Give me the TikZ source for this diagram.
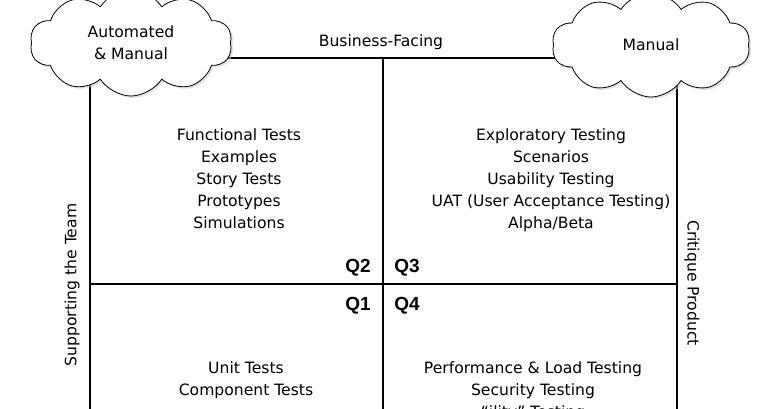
\documentclass[tikz,border=0pt]{standalone}
\usepackage{fontspec}
\setmainfont{DejaVu Sans}
\newfontfamily\qfont{Liberation Sans}
\usetikzlibrary{shapes.symbols}
\usetikzlibrary{shadows}
\newcommand{\lineskipq}{22pt}
\tikzset{
    common/.style={align=center, inner sep=0pt, font=\fontsize{15.6}{\lineskipq}\selectfont},
    quadrant/.style={common},
    qlabel/.style={inner sep=0pt, font=\qfont\bfseries\fontsize{19}{19}\selectfont},
    frame/.style={draw, line width=1.2pt},
    bubble/.style={common, cloud, draw, line width=0.8pt, fill=white, cloud puffs=10, cloud puff arc=115, aspect=2.2,
        drop shadow={shadow xshift=2pt, shadow yshift=-2pt, fill=gray!45}}
}

\begin{document}
\begin{tikzpicture}[x=1pt, y=-1pt]
    \useasboundingbox (0,0) rectangle (778,408);
    \clip (0,0) rectangle (778,408);

    % corners of the grid
    \coordinate (TL) at (90,58);
    \coordinate (TM) at (383,58);
    \coordinate (TR) at (677,58);
    \coordinate (ML) at (90,284);
    \coordinate (MR) at (677,284);
    \coordinate (BL) at (90,420);
    \coordinate (BM) at (383,420);
    \coordinate (BR) at (677,420);

    \draw[frame]
      (TL) -- (TR)
      (TL) -- (BL)
      (TR) -- (BR)
      (TM) -- (BM)
      (ML) -- (MR);

    \path
        node[bubble, minimum width=202pt, minimum height=106pt] (auto) at (131,43) {Automated\\\& Manual}
        node[bubble, minimum width=198pt, minimum height=104pt] (manual) at (651,45) {Manual};

    \path
        node[common] (business) at (381,42) {Business-Facing}
        node[common, rotate=90] (team) at (72,285) {Supporting the Team}
        node[common, rotate=-90] (critique) at (692,283) {Critique Product};

    \path
        node[quadrant] (Q2text) at (239,179) {Functional Tests\\Examples\\Story Tests\\Prototypes\\Simulations}
        node[quadrant] (Q3text) at (551,180) {Exploratory Testing\\Scenarios\\Usability Testing\\UAT (User Acceptance Testing)\\Alpha/Beta}
        node[quadrant] (Q1text) at (246,380) {Unit Tests\\Component Tests}
        node[quadrant] (Q4text) at (533,391) {Performance \& Load Testing\\Security Testing\\“ility” Testing};

    \path
        node[qlabel] (Q2) at (358,268) {Q2}
        node[qlabel] (Q3) at (407,268) {Q3}
        node[qlabel] (Q1) at (358,306) {Q1}
        node[qlabel] (Q4) at (407,306) {Q4};
\end{tikzpicture}
\end{document}
